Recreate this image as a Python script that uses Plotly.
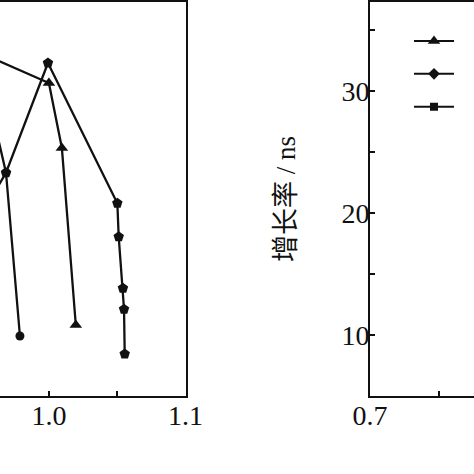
import plotly.graph_objects as go

# ---------------- data ----------------
# left panel (only its right part is visible)
left_tri_x = [0.93, 1.000, 1.0095, 1.0197]
left_tri_y = [34.1, 30.66, 25.33, 10.82]

left_cir_x = [0.955, 0.9686, 0.9788]
left_cir_y = [29.9, 23.3, 9.92]

left_pen_x = [0.955, 0.9686, 0.9993, 1.0501, 1.0511, 1.0542, 1.0550, 1.0555]
left_pen_y = [20.7, 23.3, 32.3, 20.80, 18.06, 13.83, 12.11, 8.44]

# right panel: the data lie outside the visible window, only the legend shows
right_names = ["\u2003", "\u2003", "\u2003"]
right_symbols = ["triangle-up", "diamond", "square"]
right_sizes = [11, 9, 8]
right_x = [[None], [None], [None]]
right_y = [[None], [None], [None]]

# tick labels
left_xticks = [1.0, 1.05, 1.1]
left_xtext = ["1.0", "", "1.1"]
right_xticks = [0.7, 0.75]
right_xtext = ["0.7", ""]
right_yticks = [10, 15, 20, 25, 30, 35]
right_ytext = ["10", "", "20", "", "30", ""]
y_title = "增长率 / ns"

# ---------------- figure ----------------
W = H = 474
FONT = "Liberation Serif, DejaVu Serif, Noto Sans CJK SC, serif"
BLACK = "#111111"

fig = go.Figure()

line = dict(color=BLACK, width=2.3)
fig.add_trace(go.Scatter(x=left_tri_x, y=left_tri_y, mode="lines+markers",
                         line=line, marker=dict(symbol="triangle-up", size=11, color=BLACK),
                         xaxis="x", yaxis="y", showlegend=False))
fig.add_trace(go.Scatter(x=left_cir_x, y=left_cir_y, mode="lines+markers",
                         line=line, marker=dict(symbol="circle", size=9, color=BLACK),
                         xaxis="x", yaxis="y", showlegend=False))
fig.add_trace(go.Scatter(x=left_pen_x, y=left_pen_y, mode="lines+markers",
                         line=line, marker=dict(symbol="pentagon", size=11, color=BLACK),
                         xaxis="x", yaxis="y", showlegend=False))

for name, sym, sz, xs, ys in zip(right_names, right_symbols, right_sizes, right_x, right_y):
    fig.add_trace(go.Scatter(x=xs, y=ys, name=name, mode="lines+markers",
                             line=dict(color=BLACK, width=2),
                             marker=dict(symbol=sym, size=sz, color=BLACK),
                             xaxis="x2", yaxis="y2", showlegend=True))

axis_common = dict(showgrid=False, zeroline=False, showline=True, linecolor=BLACK,
                   linewidth=2, ticks="inside", ticklen=5, tickwidth=2, tickcolor=BLACK,
                   tickfont=dict(family=FONT, size=28, color=BLACK))

yrange = [5, 37.3]
fig.update_layout(
    width=W, height=H, showlegend=True,
    margin=dict(l=0, r=0, t=2, b=78, autoexpand=False),
    paper_bgcolor="white", plot_bgcolor="white",
    font=dict(family=FONT, size=26, color=BLACK),
    xaxis=dict(domain=[0, 185.5 / W], range=[0.9642, 1.1], mirror=True,
               tickmode="array", tickvals=left_xticks, ticktext=left_xtext,
               anchor="y", ticklabelstandoff=-7, **axis_common),
    yaxis=dict(domain=[0, 1], range=yrange, side="right", anchor="x",
               showticklabels=False, **{**axis_common, "ticks": ""}),
    xaxis2=dict(domain=[370 / W, 1], range=[0.7, 0.7754], mirror=True,
                tickmode="array", tickvals=right_xticks, ticktext=right_xtext,
                anchor="y2", ticklabelstandoff=-7, **axis_common),
    yaxis2=dict(domain=[0, 1], range=yrange, anchor="x2",
                tickmode="array", tickvals=right_yticks, ticktext=right_ytext,
                ticklabelstandoff=-7,
                title=dict(text=y_title, font=dict(family=FONT, size=27, color=BLACK),
                           standoff=38),
                **axis_common),
    legend=dict(x=409 / W, y=1 - 21 / H, xanchor="left", yanchor="top",
                bgcolor="rgba(0,0,0,0)", borderwidth=0, itemwidth=40,
                font=dict(family=FONT, size=23, color=BLACK), tracegroupgap=0),
)

fig.write_html("out.html", config={"displayModeBar": False},
               post_script="document.body.style.margin='0';")
